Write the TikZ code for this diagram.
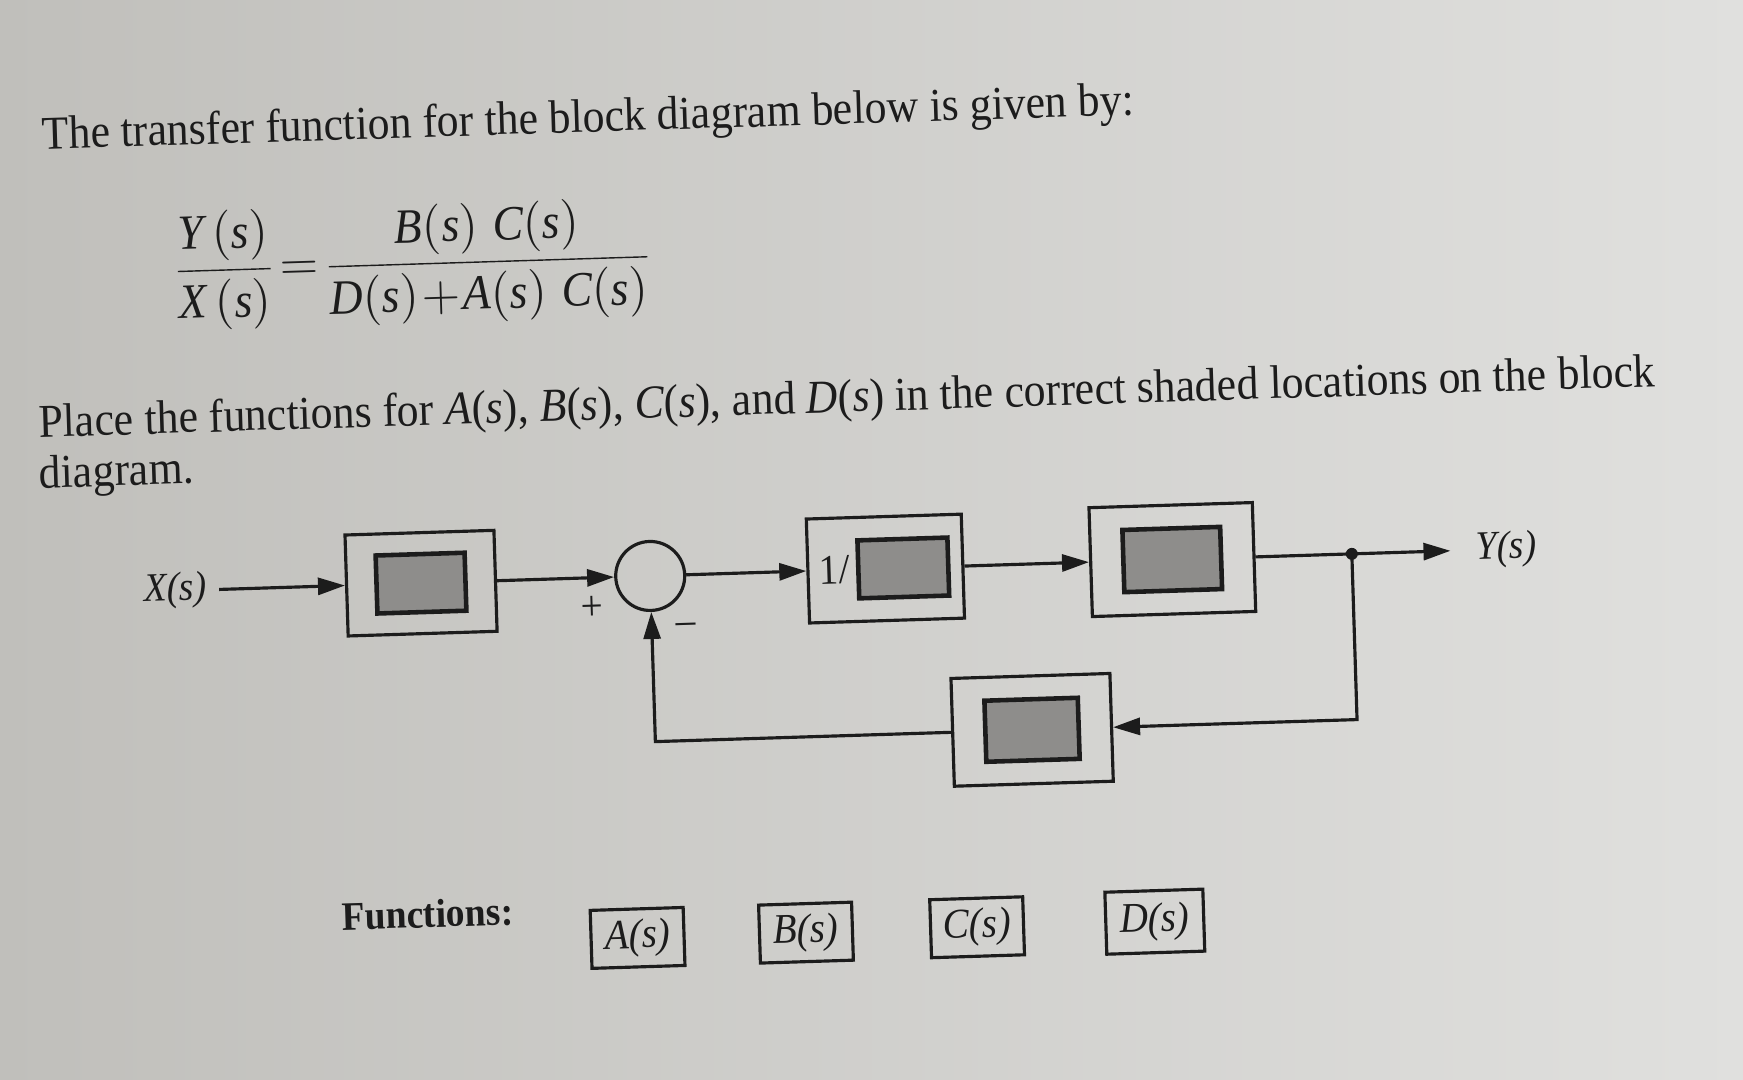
\documentclass[tikz,border=0pt]{standalone}
\usepackage{fontspec}
\setmainfont{Liberation Serif}[FakeStretch=0.93]
\usetikzlibrary{arrows.meta, positioning, calc}
\definecolor{paperdark}{RGB}{192,191,187}
\definecolor{paperlight}{RGB}{224,224,222}
\definecolor{slotgray}{RGB}{142,141,139}
\definecolor{ink}{RGB}{28,28,28}

\begin{document}
\begin{tikzpicture}[
  prose/.style={anchor=base west, inner sep=0pt, text=ink, font=\fontsize{13.4}{14}\selectfont},
  outerblk/.style={draw=ink, line width=0.9pt, minimum width=1.55cm, minimum height=1.04cm, inner sep=0pt},
  slot/.style={draw=ink, fill=slotgray, line width=1.3pt, minimum width=0.9cm, minimum height=0.58cm, inner sep=0pt},
  sig/.style={draw=ink, line width=0.9pt, -{Triangle[length=2.7mm, width=1.7mm]}},
  lbl/.style={text=ink, font=\fontsize{11.5}{13}\selectfont\itshape},
  fnbox/.style={draw=ink, line width=0.9pt, text=ink, minimum width=0.93cm, minimum height=0.58cm, inner sep=1pt, font=\fontsize{12}{14}\selectfont\itshape}
]
  % Paper
  \shade[left color=paperdark, right color=paperlight] (0,0) rectangle (17.43,-10.80);
  \useasboundingbox (0,0) rectangle (17.43,-10.80);

  \begin{scope}[rotate around={1.8:(8.715,-5.402)}, every node/.append style={transform shape}]
  % Question text
  \node[prose] (intro) at (0.545,-1.234) {The transfer function for the block diagram below is given by:};
  \node[anchor=west, text=ink, font=\fontsize{14}{15}\selectfont] (tf) at (1.70,-2.501)
    {$\displaystyle\frac{\textit{Y}\,(\textit{s})}{\textit{X}\,(\textit{s})}\!=\!\frac{\textit{B}(\textit{s})\;\textit{C}(\textit{s})}{\textit{D}(\textit{s})\!+\!\textit{A}(\textit{s})\;\textit{C}(\textit{s})}$};
  \node[prose] (task) at (0.422,-4.113) {Place the functions for \textit{A}(\textit{s}), \textit{B}(\textit{s}), \textit{C}(\textit{s}), and \textit{D}(\textit{s}) in the correct shaded locations on the block};
  \node[prose] (task2) at (0.411,-4.62) {diagram.};

  % Forward path
  \node[lbl] (xin) at (1.741,-5.69) {X(s)};
  \node[outerblk, minimum width=1.49cm, minimum height=1.01cm] (b1) at (4.199,-5.69) {};
  \node[slot, minimum width=0.89cm] (s1) at (b1) {};
  \node[draw=ink, line width=0.9pt, circle, minimum size=0.69cm, inner sep=0pt] (sum) at (6.492,-5.69) {};
  \node[outerblk] (b2) at (8.845,-5.69) {};
  \node[slot] (s2) at ([xshift=1.8mm]b2.center) {};
  \node[text=ink, font=\fontsize{12}{14}\selectfont] (inv) at ([xshift=-5.1mm]b2.center) {1/};
  \node[outerblk, minimum width=1.634cm, minimum height=1.089cm] (b3) at (11.716,-5.69) {};
  \node[slot, minimum width=0.978cm, minimum height=0.622cm] (s3) at (b3) {};
  \coordinate (junc) at (13.513,-5.69);
  \node[lbl, anchor=west] (yout) at (14.63,-5.69) {Y(s)};

  % Feedback path
  \node[outerblk, minimum width=1.59cm, minimum height=1.078cm] (b4) at (10.261,-7.348) {};
  \node[slot, minimum width=0.934cm, minimum height=0.611cm] (s4) at (b4) {};

  \node[text=ink, font=\fontsize{12}{14}\selectfont] (plus) at ([xshift=-5.9mm, yshift=-3mm]sum.center) {+};
  \node[text=ink, font=\fontsize{12}{14}\selectfont] (minus) at ([xshift=3.4mm, yshift=-5.4mm]sum.center) {–};

  \draw[sig] (xin.east) -- (b1.west);
  \draw[sig] (b1.east) -- (sum.west);
  \draw[sig] (sum.east) -- (b2.west);
  \draw[sig] (b2.east) -- (b3.west);
  \draw[sig, shorten >=1.3mm] (b3.east) -- (yout.west);
  \fill[ink] (junc) circle (0.6mm);
  \draw[sig] (junc) |- (b4.east);
  \draw[sig] (b4.west) -| (sum.south);

  % Function tiles
  \node[text=ink, font=\fontsize{11.5}{14}\selectfont\bfseries] (fnlbl) at (4.16,-8.997) {Functions:};
  \node[fnbox] (fa) at (6.252,-9.304) {A(s)};
  \node[fnbox] (fb) at (7.937,-9.304) {B(s)};
  \node[fnbox] (fc) at (9.649,-9.304) {C(s)};
  \node[fnbox, minimum width=0.98cm, minimum height=0.62cm] (fd) at (11.427,-9.304) {D(s)};
  \end{scope}
\end{tikzpicture}
\end{document}
